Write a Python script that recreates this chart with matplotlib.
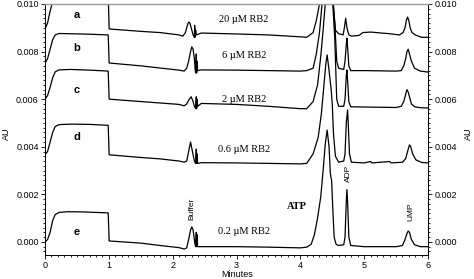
import matplotlib
matplotlib.use("Agg")
import matplotlib.pyplot as plt
from matplotlib.ticker import MultipleLocator

# chromatogram traces (minutes, AU)
TIME_A = [0, 0.04, 0.08, 0.12, 0.16, 0.22, 0.5, 0.99, 1.005, 1.5, 1.8, 2.1, 2.16, 2.2, 2.23,
          2.25, 2.27, 2.3, 2.32, 2.34, 2.345, 2.35, 2.36, 2.37, 2.45, 3.0, 3.5, 4.0, 4.1, 4.2,
          4.25, 4.3, 4.35, 4.42, 4.49, 4.52, 4.55, 4.6, 4.67, 4.69, 4.71, 4.73, 4.76, 4.8,
          4.92, 4.98, 5.1, 5.4, 5.55, 5.61, 5.64, 5.66, 5.68, 5.7, 5.72, 5.75, 5.8, 5.9, 6.0]
AU_A = [0.00895, 0.0092, 0.0097, 0.0101, 0.0103, 0.0104, 0.0104, 0.0104, 0.00895, 0.00885,
        0.0088, 0.0087, 0.00865, 0.0088, 0.0091, 0.00924, 0.0092, 0.0089, 0.0087, 0.0086,
        0.0091, 0.0086, 0.0089, 0.0087, 0.00878, 0.00874, 0.0087, 0.00862, 0.0086, 0.0088,
        0.0093, 0.0100, 0.0110, 0.0140, 0.0110, 0.0098, 0.0089, 0.00875, 0.0087, 0.0090,
        0.0094, 0.0090, 0.0087, 0.00865, 0.00868, 0.0088, 0.00882, 0.00875, 0.0087, 0.0088,
        0.0090, 0.0093, 0.00945, 0.0093, 0.0090, 0.0088, 0.0087, 0.0086, 0.0086]

TIME_B = [0, 0.04, 0.08, 0.12, 0.16, 0.22, 0.4, 0.7, 0.99, 1.005, 1.5, 1.8, 2.1, 2.18, 2.22,
          2.25, 2.28, 2.3, 2.32, 2.34, 2.35, 2.36, 2.37, 2.375, 2.385, 2.39, 2.45, 3.0, 3.5,
          4.0, 4.1, 4.2, 4.25, 4.3, 4.34, 4.42, 4.5, 4.54, 4.57, 4.6, 4.68, 4.7, 4.72, 4.73,
          4.74, 4.76, 4.79, 5.0, 5.5, 5.58, 5.62, 5.65, 5.67, 5.69, 5.71, 5.74, 5.79, 5.88, 6.0]
AU_B = [0.00752, 0.0077, 0.0081, 0.0085, 0.0087, 0.00876, 0.00875, 0.00873, 0.0087, 0.00752,
        0.0074, 0.00731, 0.00722, 0.00718, 0.0073, 0.0076, 0.0080, 0.0082, 0.0081, 0.0077,
        0.0073, 0.0071, 0.0079, 0.0071, 0.0076, 0.0072, 0.00723, 0.00722, 0.0072, 0.00718,
        0.0072, 0.0073, 0.0079, 0.0088, 0.0100, 0.0125, 0.0106, 0.0092, 0.0076, 0.0073,
        0.00725, 0.0076, 0.0083, 0.00857, 0.0082, 0.0074, 0.0072, 0.0072, 0.00718, 0.0072,
        0.0074, 0.0077, 0.0080, 0.0081, 0.0079, 0.0076, 0.0073, 0.00718, 0.00714]

TIME_C = [0, 0.04, 0.08, 0.12, 0.16, 0.22, 0.4, 0.7, 0.99, 1.005, 1.5, 1.8, 2.1, 2.18, 2.22,
          2.26, 2.29, 2.32, 2.34, 2.36, 2.37, 2.375, 2.385, 2.39, 2.45, 3.0, 3.5, 4.0, 4.1,
          4.2, 4.27, 4.32, 4.36, 4.39, 4.43, 4.5, 4.54, 4.57, 4.6, 4.68, 4.7, 4.72, 4.73, 4.74,
          4.76, 4.79, 5.0, 5.5, 5.58, 5.62, 5.65, 5.67, 5.69, 5.71, 5.74, 5.79, 5.88, 6.0]
AU_C = [0.006, 0.00615, 0.0065, 0.0069, 0.00715, 0.00723, 0.00725, 0.00722, 0.00718, 0.006,
        0.0059, 0.00584, 0.00578, 0.00572, 0.0058, 0.006, 0.0061, 0.0059, 0.0057, 0.0056,
        0.0061, 0.0056, 0.006, 0.0057, 0.00582, 0.00578, 0.0057, 0.0056, 0.0056, 0.0059,
        0.0066, 0.0078, 0.0090, 0.0100, 0.0110, 0.0104, 0.0085, 0.0060, 0.0057, 0.0057,
        0.006, 0.0070, 0.00723, 0.0068, 0.0059, 0.00568, 0.00567, 0.00565, 0.0057, 0.0059,
        0.0062, 0.0064, 0.0063, 0.0061, 0.0058, 0.00568, 0.00564, 0.00563]

TIME_D = [0, 0.04, 0.08, 0.12, 0.16, 0.22, 0.4, 0.7, 0.99, 1.005, 1.5, 1.8, 2.1, 2.18, 2.22,
          2.25, 2.28, 2.31, 2.34, 2.36, 2.37, 2.375, 2.385, 2.39, 2.45, 3.0, 3.5, 4.0, 4.1,
          4.2, 4.28, 4.33, 4.37, 4.4, 4.42, 4.45, 4.47, 4.48, 4.5, 4.52, 4.55, 4.6, 4.68, 4.7,
          4.72, 4.74, 4.75, 4.77, 4.8, 5.0, 5.1, 5.12, 5.4, 5.42, 5.6, 5.65, 5.68, 5.71, 5.73,
          5.76, 5.81, 5.9, 6.0]
AU_D = [0.00366, 0.0038, 0.0042, 0.0046, 0.00485, 0.00493, 0.00495, 0.00494, 0.0049, 0.00366,
        0.00355, 0.00349, 0.0034, 0.00335, 0.0034, 0.0038, 0.0042, 0.0038, 0.0034, 0.0033,
        0.0039, 0.0033, 0.0037, 0.0033, 0.00333, 0.00332, 0.0033, 0.00328, 0.0033, 0.0037,
        0.0044, 0.0054, 0.0066, 0.0075, 0.00786, 0.0072, 0.0067, 0.0065, 0.0058, 0.0045,
        0.0036, 0.00335, 0.0034, 0.0037, 0.0050, 0.00555, 0.0050, 0.0037, 0.00335, 0.00332,
        0.00338, 0.00332, 0.00338, 0.00332, 0.00335, 0.0035, 0.0038, 0.00408, 0.004, 0.0037,
        0.00345, 0.00334, 0.00332]

TIME_E = [0, 0.04, 0.08, 0.12, 0.16, 0.22, 0.35, 0.6, 0.99, 1.005, 1.5, 1.8, 2.1, 2.18, 2.22,
          2.25, 2.28, 2.3, 2.32, 2.35, 2.36, 2.37, 2.375, 2.385, 2.39, 2.45, 3.0, 3.5, 4.0,
          4.1, 4.17, 4.22, 4.27, 4.32, 4.36, 4.39, 4.42, 4.45, 4.47, 4.48, 4.49, 4.51, 4.53,
          4.56, 4.6, 4.68, 4.7, 4.72, 4.73, 4.74, 4.76, 4.79, 5.0, 5.5, 5.6, 5.64, 5.67, 5.69,
          5.71, 5.74, 5.79, 5.88, 6.0]
AU_E = [0.0, 0.0001, 0.0004, 0.0009, 0.00115, 0.00124, 0.00127, 0.00126, 0.00122, 0.00004,
        -0.00005, -0.00015, -0.00024, -0.0003, -0.00025, 0.0001, 0.0005, 0.00063, 0.0005,
        -0.0001, -0.0002, 0.0004, -0.0002, 0.0003, -0.0002, -0.0002, -0.0002, -0.00022,
        -0.00025, -0.00022, -0.0001, 0.0003, 0.001, 0.0019, 0.0031, 0.0041, 0.0047, 0.0040,
        0.0029, 0.0027, 0.0026, 0.0013, 0.0002, -0.0001, -0.00015, -0.00012, 0.0002, 0.0017,
        0.0022, 0.0017, 0.0002, -0.00015, -0.0002, -0.0002, -0.00015, 0.0001, 0.00035,
        0.00046, 0.0004, 0.0001, -0.00012, -0.0002, -0.0002]

TRACES = [(TIME_A, AU_A), (TIME_B, AU_B), (TIME_C, AU_C), (TIME_D, AU_D), (TIME_E, AU_E)]

PANEL_LETTERS = ["a", "b", "c", "d", "e"]
LETTER_Y = [0.00954, 0.00815, 0.00638, 0.0044, 0.00042]
CONC_LABELS = ["20 \u00b5M RB2", "6 \u00b5M RB2", "2 \u00b5M RB2", "0.6 \u00b5M RB2", "0.2 \u00b5M RB2"]
CONC_Y = [0.00933, 0.00782, 0.0060, 0.0039, 0.00042]

PEAK_NAMES = ["Buffer", "ADP", "UMP"]
PEAK_X = [2.3, 4.76, 5.73]
PEAK_Y = [0.0014, 0.00286, 0.00126]

SANS = "Liberation Sans"
SERIF = "Liberation Serif"
FS = 6.5

fig = plt.figure(figsize=(4.74, 2.79), dpi=100)
ax = fig.add_axes([45 / 474, 24 / 279, 383 / 474, 251 / 279])

for t, y in TRACES:
    ax.plot(t, y, color="black", linewidth=0.9)

for letter, ly in zip(PANEL_LETTERS, LETTER_Y):
    ax.text(0.5, ly, letter, ha="center", va="center", fontsize=8, fontweight="bold", family=SANS)

for label, cy in zip(CONC_LABELS, CONC_Y):
    ax.text(3.12, cy, label, ha="center", va="center", fontsize=7.5, family=SERIF)

for name, px, py in zip(PEAK_NAMES, PEAK_X, PEAK_Y):
    ax.text(px, py, name, ha="center", va="center", rotation=90, fontsize=6, family=SANS)
ax.text(3.94, 0.00147, "ATP", ha="center", va="center", fontsize=7.5, fontweight="bold", family=SERIF)

ax.set_xlim(0, 6)
ax.set_ylim(-0.00055, 0.010)
ax.xaxis.set_major_locator(MultipleLocator(1))
ax.xaxis.set_minor_locator(MultipleLocator(0.1))
ax.yaxis.set_major_locator(MultipleLocator(0.002))
ax.yaxis.set_minor_locator(MultipleLocator(0.0002))
ax.yaxis.set_major_formatter(plt.FuncFormatter(lambda v, p: f"{v:.3f}"))

ax.tick_params(which="both", direction="out", right=True, labelright=True, top=False,
               labelsize=FS, width=0.6, pad=1.5)
ax.tick_params(axis="x", pad=1)
ax.tick_params(which="major", length=3)
ax.tick_params(which="minor", length=1.5)
for lbl in ax.get_xticklabels() + ax.yaxis.get_majorticklabels():
    lbl.set_family(SANS)

for side in ["left", "right", "bottom"]:
    ax.spines[side].set_linewidth(0.7)
ax.spines["top"].set_color("#999999")
ax.spines["top"].set_linewidth(1.0)

fig.text(237 / 474, 1 - 274.5 / 279, "Minutes", ha="center", va="center", fontsize=FS, family=SANS)
fig.text(6 / 474, 0.52, "AU", rotation=90, ha="center", va="center", fontsize=FS, family=SANS)
fig.text(468 / 474, 0.52, "AU", rotation=90, ha="center", va="center", fontsize=FS, family=SANS)

fig.savefig("out.png", dpi=100)
